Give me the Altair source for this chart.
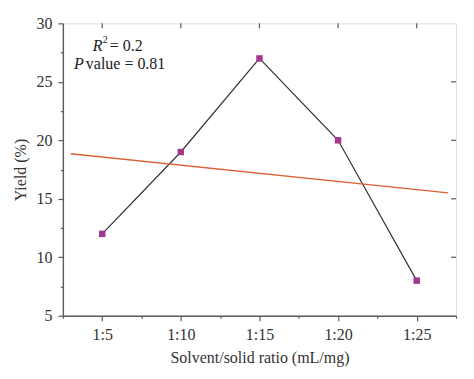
import altair as alt
import pandas as pd

ratio_labels = ["1:5", "1:10", "1:15", "1:20", "1:25"]
ratio_values = [5, 10, 15, 20, 25]
yield_values = [12, 19, 27, 20, 8]

fit_x = [3.0, 27.0]
fit_y = [18.85, 15.5]

right_ticks = [10, 15, 20, 25]

df = pd.DataFrame({"x": ratio_values, "y": yield_values, "label": ratio_labels})
fit = pd.DataFrame({"x": fit_x, "y": fit_y})
rt = pd.DataFrame({"y": right_ticks})

W, H = 394, 293
FONT = "Liberation Serif"
AX = "#5a5a5a"
xscale = alt.Scale(domain=[2.5, 27.5], nice=False, zero=False)
yscale = alt.Scale(domain=[5, 30], nice=False, zero=False)
xticks = [2.5 + 2.5 * i for i in range(11)]
yticks = [5 + 2.5 * i for i in range(11)]

minor = {"condition": {"test": "datum.value % 5 !== 0", "value": 2.5}, "value": 5}

xaxis = alt.Axis(values=xticks, orient="bottom", title="Solvent/solid ratio (mL/mg)",
                 labelExpr="datum.value % 5 === 0 ? '1:' + datum.value : ''",
                 tickSize=minor, grid=False, domainColor=AX, tickColor=AX,
                 domainWidth=1.4, tickWidth=1.2,
                 labelFont=FONT, labelFontSize=16, labelColor="#333333",
                 titleFont=FONT, titleFontSize=16, titleFontWeight="normal",
                 titleColor="#333333", labelPadding=6, titlePadding=7,
                 labelFlush=False)
yaxis = alt.Axis(values=yticks, orient="left", title="Yield (%)",
                 labelExpr="datum.value % 5 === 0 ? datum.value : ''",
                 tickSize=minor, grid=False, domainColor=AX, tickColor=AX,
                 domainWidth=1.4, tickWidth=1.2,
                 labelFont=FONT, labelFontSize=16, labelColor="#333333",
                 titleFont=FONT, titleFontSize=16, titleFontWeight="normal",
                 titleColor="#333333", labelPadding=6, titlePadding=7,
                 labelFlush=False)

X = alt.X("x:Q", scale=xscale, axis=xaxis)
Y = alt.Y("y:Q", scale=yscale, axis=yaxis)

main = alt.Chart(df).mark_line(color="#333333", strokeWidth=1.2).encode(x=X, y=Y)

top_ticks = alt.Chart(df).mark_rule(color=AX, strokeWidth=1.2).encode(
    x=X, y=alt.value(0), y2=alt.value(5),
)
right_tk = alt.Chart(rt).mark_rule(color=AX, strokeWidth=1.2).encode(
    y=Y, x=alt.value(W - 5), x2=alt.value(W),
)

fit_line = alt.Chart(fit).mark_line(color="#DC6036", strokeWidth=1.3).encode(x=X, y=Y)

points = alt.Chart(df).mark_square(color="#A3378F", size=42, opacity=1).encode(x=X, y=Y)

ann = pd.DataFrame({"x": [4.4], "y": [28.1]})
ann2 = pd.DataFrame({"x": [3.2], "y": [26.5]})

def txt(d, text, dx=0, dy=0, style="normal", size=16):
    return alt.Chart(d).mark_text(text=text, font=FONT, fontSize=size, fontStyle=style,
                                  align="left", baseline="middle", dx=dx, dy=dy,
                                  color="#222222").encode(x=X, y=Y)

r_text = txt(ann, "R", style="italic")
r_sup = txt(ann, "2", dx=10, dy=-6, size=10)
r_rest = txt(ann, "= 0.2", dx=17)
p_text = txt(ann2, "P", style="italic")
p_rest = txt(ann2, "value = 0.81", dx=12)

chart = alt.layer(main, top_ticks, right_tk, fit_line, points,
                  r_text, r_sup, r_rest, p_text, p_rest).properties(
    width=W, height=H,
    autosize=alt.AutoSizeParams(type="none"),
    padding={"left": 55, "top": 15, "right": 10, "bottom": 55},
).configure_view(stroke=AX, strokeWidth=1.4).configure(background="white")

chart.save("out.html", embed_options={"renderer": "svg", "actions": False})
